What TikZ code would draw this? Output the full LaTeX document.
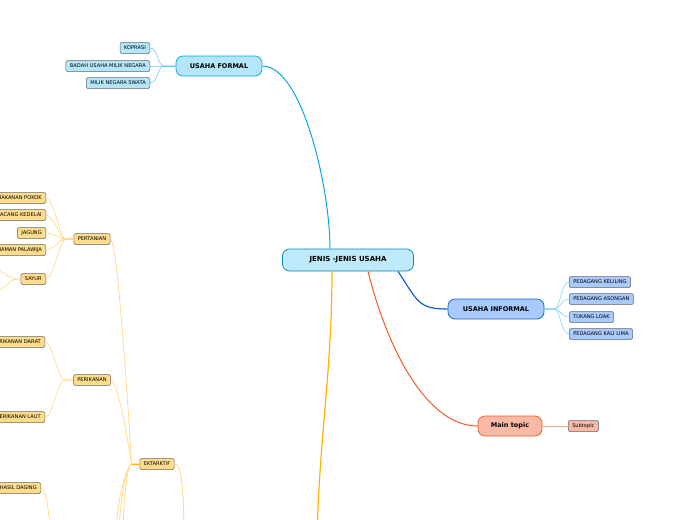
\documentclass[tikz,border=0pt]{standalone}
\usepackage{fontspec}
\setmainfont{DejaVu Sans}
\begin{document}
\begin{tikzpicture}[x=1pt,y=-1pt,
 main/.style={draw=#1!70!black,rounded corners=7pt,minimum height=20pt,font=\bfseries\fontsize{6.5}{7}\selectfont,inner xsep=8pt,line width=0.7pt},
 leaf/.style={draw=gray!80!black,rounded corners=1.5pt,minimum height=11pt,inner sep=1.5pt,inner xsep=4pt,font=\fontsize{5.1}{5.5}\selectfont,line width=0.5pt},
 yl/.style={leaf,fill=yfill},
 ed/.style={line width=#1},ed/.default=0.8pt]
\definecolor{yfill}{HTML}{FDDC8C}
\definecolor{cblue}{HTML}{0AA4E8}
\definecolor{cdblue}{HTML}{1460D0}
\definecolor{corange}{HTML}{F05A28}
\definecolor{cyel}{HTML}{FFB300}
\definecolor{lyel}{HTML}{FFD780}
\useasboundingbox (0,0) rectangle (697,520);
\clip (0,0) rectangle (697,520);
% root
\node[main=cblue,fill=cyan!25,draw=cblue!80!black,minimum width=131pt,minimum height=22pt,font=\bfseries\fontsize{7}{8}\selectfont] (root) at (348,260) {JENIS -JENIS USAHA};
\node[main=cblue,fill=cyan!30,draw=cblue,minimum width=86pt] (uf) at (219,66) {USAHA FORMAL};
\node[main=cdblue,draw=cdblue,minimum width=96pt,fill={rgb,255:red,168;green,202;blue,254}] (ui) at (496,309) {USAHA INFORMAL};
\node[main=corange,fill={rgb,255:red,249;green,185;blue,164},draw=corange,minimum width=64pt] (mt) at (510,426) {Main topic};
% formal children
\node[leaf,fill=cyan!30,anchor=east] (k1) at (150,48) {KOPRASI};
\node[leaf,fill=cyan!30,anchor=east] (k2) at (150,66) {BADAH USAHA MILIK NEGARA};
\node[leaf,fill=cyan!30,anchor=east] (k3) at (150,83) {MILIK NEGARA SWATA};
% informal children
\node[leaf,fill={rgb,255:red,168;green,202;blue,254},anchor=west] (i1) at (569,282) {PEDAGANG KELILING};
\node[leaf,fill={rgb,255:red,168;green,202;blue,254},anchor=west] (i2) at (569,299) {PEDAGANG ASONGAN};
\node[leaf,fill={rgb,255:red,168;green,202;blue,254},anchor=west] (i3) at (569,317) {TUKANG LOAK};
\node[leaf,fill={rgb,255:red,168;green,202;blue,254},anchor=west] (i4) at (569,334) {PEDAGANG KALI LIMA};
\node[leaf,fill={rgb,255:red,249;green,185;blue,164},anchor=west] (st) at (568,426) {Subtopic};
% yellow tree
\node[yl] (ek) at (157,464) {EKTARKTIF};
\node[yl] (pt) at (92,239) {PERTANIAN};
\node[yl] (pk) at (92,380) {PERIKANAN};
\node[yl,anchor=east] (y1) at (46,198) {TANAMAN MAKANAN POKOK};
\node[yl,anchor=east] (y2) at (46,215) {KACANG KEDELAI};
\node[yl,anchor=east] (y3) at (46,233) {JAGUNG};
\node[yl,anchor=east] (y4) at (46,250) {TANAMAN PALAWIJA};
\node[yl,anchor=east] (y5) at (46,279) {SAYUR};
\node[yl,anchor=east] (y6) at (45,342) {PERIKANAN DARAT};
\node[yl,anchor=east] (y7) at (45,417) {PERIKANAN LAUT};
\node[yl,anchor=east] (y8) at (41,488) {HASIL DAGING};
\coordinate (ob) at (317,540);
\coordinate (ekp) at (184,540);
\coordinate (ec1) at (116,540);
\coordinate (ec2) at (119,540);
\coordinate (ec3) at (123,540);
\coordinate (s1) at (-5,270);
\coordinate (s2) at (-5,292);
\coordinate (hd) at (50,540);
% main edges
\draw[cblue,line width=1pt] ([xshift=-18pt]root.north) .. controls +(0,-60) and +(40,0) .. (uf.east);
\draw[cdblue,line width=1.2pt] ([xshift=50pt]root.south) .. controls +(20,30) and +(-30,0) .. (ui.west);
\draw[corange,line width=1pt] ([xshift=20pt]root.south) .. controls +(20,80) and +(-50,0) .. (mt.west);
\draw[cyel,line width=1.2pt] ([xshift=-16pt]root.south) .. controls +(0,100) and +(2,-100) .. (ob);
% formal
\foreach \n in {k1,k2,k3}\draw[cyan!60,line width=0.6pt] (uf.west) -- ++(-12,0) .. controls +(-6,0) and +(8,0) .. (\n.east);
\foreach \n in {i1,i2,i3,i4}\draw[blue!35!cyan!50,line width=0.6pt] (ui.east) -- ++(10,0) .. controls +(6,0) and +(-8,0) .. (\n.west);
\draw[corange!50,line width=0.8pt] (mt.east) -- (st.west);
% yellow
\draw[lyel,line width=0.8pt] (ek.east) .. controls +(6,0) and +(0,-60) .. (ekp);
\foreach \n in {ec1,ec2,ec3}\draw[lyel,line width=0.7pt] (ek.west) -- ++(-8,0) .. controls +(-4,0) and +(0,-40) .. (\n);
\draw[cyel,line width=0.8pt] (ek.west) -- ++(-8,0);
\foreach \n in {pt,pk}\draw[lyel,line width=0.7pt] (\n.east) .. controls +(8,0) and +(0,-0) .. ([xshift=-8pt]ek.west) ;
\foreach \n in {y1,y2,y3,y4,y5}\draw[lyel,line width=0.6pt] (pt.west) -- ++(-8,0) .. controls +(-6,0) and +(8,0) .. (\n.east);
\foreach \n in {y6,y7}\draw[lyel,line width=0.6pt] (pk.west) -- ++(-8,0) .. controls +(-8,0) and +(8,0) .. (\n.east);
\foreach \n in {s1,s2}\draw[lyel,line width=0.6pt] (y5.west) -- ++(-6,0) .. controls +(-3,0) and +(6,0) .. (\n);
\draw[lyel,line width=0.6pt] (y8.east) .. controls +(6,0) and +(0,-20) .. (hd);
\end{tikzpicture}
\end{document}
